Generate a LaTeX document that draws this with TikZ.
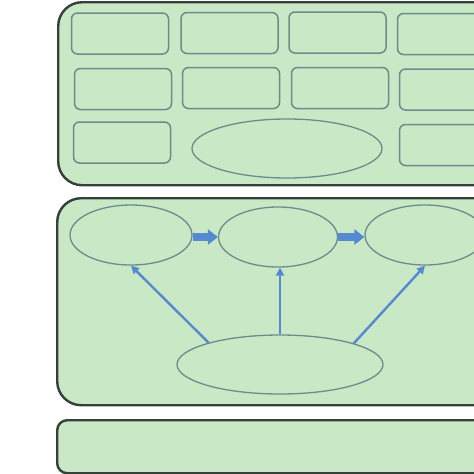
\documentclass[tikz,border=0pt]{standalone}
\usetikzlibrary{shapes.geometric,arrows.meta}
\definecolor{pfill}{HTML}{C9E8C5}
\definecolor{pedge}{HTML}{35403A}
\definecolor{iedge}{HTML}{6B8C8A}
\definecolor{arr}{HTML}{5589D2}
\begin{document}
\begin{tikzpicture}[x=1pt,y=-1pt,
  panel/.style={draw=pedge,fill=pfill,line width=2.4pt,rounded corners=24pt,inner sep=0pt,anchor=north west},
  smallbox/.style={draw=iedge,line width=1.5pt,rounded corners=6pt,inner sep=0pt,minimum width=97pt,minimum height=41pt},
  oval/.style={draw=iedge,line width=1.3pt,ellipse,inner sep=0pt},
  thinarrow/.style={draw=arr,line width=2.4pt,-{Triangle[length=8pt,width=8pt]}},
  blockarrow/.style={draw=arr,line width=8pt,-{Triangle[length=10pt,width=15pt]}}]
\useasboundingbox (0,0) rectangle (474,474);
\clip (0,0) rectangle (474,474);
% panels
\node[panel,minimum width=470pt,minimum height=183pt] (p1) at (57,1) {};
\node[panel,minimum width=470pt,minimum height=207pt] (p2) at (56,197) {};
\node[panel,rounded corners=10pt,minimum width=470pt,minimum height=53pt] (p3) at (56,419) {};
% panel 1 boxes
\node[smallbox] (b11) at (120,33.5) {};
\node[smallbox] (b12) at (229.5,33) {};
\node[smallbox] (b13) at (337.5,32.5) {};
\node[smallbox] (b14) at (446,34) {};
\node[smallbox] (b21) at (123,89) {};
\node[smallbox] (b22) at (231,88) {};
\node[smallbox] (b23) at (340,88) {};
\node[smallbox] (b24) at (448,89.5) {};
\node[smallbox] (b31) at (122,142.5) {};
\node[oval,minimum width=190pt,minimum height=59pt] (e31) at (287,148.5) {};
\node[smallbox] (b34) at (448,145) {};
% panel 2
\node[oval,minimum width=122pt,minimum height=60pt] (e1) at (131,235) {};
\node[oval,minimum width=119pt,minimum height=60pt] (e2) at (278,237) {};
\node[oval,minimum width=120pt,minimum height=60pt] (e3) at (425,235) {};
\node[oval,minimum width=206pt,minimum height=59pt] (bot) at (280,364.5) {};
\draw[blockarrow] (e1.east |- 0,237) -- (e2.west |- 0,237);
\draw[blockarrow] (e2.east |- 0,237) -- (e3.west |- 0,237);
\draw[thinarrow] (bot.163.6) -- (e1.south);
\draw[thinarrow] (bot.north) -- (bot.north |- e2.south);
\draw[thinarrow] (bot.16.4) -- (e3.south);
\end{tikzpicture}
\end{document}
